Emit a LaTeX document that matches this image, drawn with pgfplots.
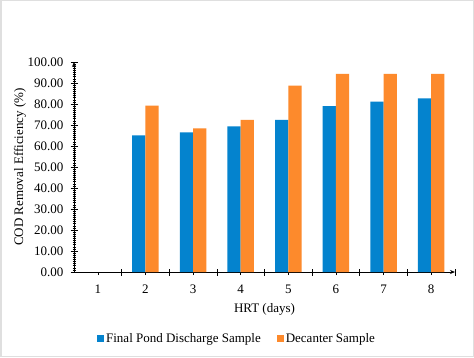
\documentclass[border=0pt]{standalone}
\usepackage{pgfplots}
\pgfplotsset{compat=1.18}
\usepackage{fontspec}
\setmainfont{Liberation Serif}
\usetikzlibrary{arrows.meta}
\definecolor{cblue}{RGB}{4,131,206}
\definecolor{corange}{RGB}{253,138,44}
\begin{document}
\fontsize{12}{14}\selectfont
\begin{tikzpicture}[x=1pt,y=1pt]
\useasboundingbox (0,0) rectangle (474,357);
\fill[white] (0,0) rectangle (474,357);
\draw[gray!25,line width=1.5pt] (0.75,0.75) rectangle (473.25,356.25);
\begin{axis}[
  at={(74pt,85pt)}, anchor=south west,
  scale only axis, width=381pt, height=210pt,
  xmin=0.5, xmax=8.5, ymin=0, ymax=100,
  axis x line=bottom, axis y line=left,
  axis line style={line width=0.8pt,-{Stealth[length=5pt,width=4pt]}},
  ybar=0pt, bar width=13.3pt,
  tick align=center, major tick length=7pt, minor tick length=3pt,
  xtick={1.5,2.5,...,8.5},
  xticklabels={},
  extra x ticks={1,...,8},
  extra x tick labels={1,2,3,4,5,6,7,8},
  extra x tick style={major tick length=3pt, tick align=outside, xticklabel style={yshift=-6pt}},
  x tick style={draw=black, line width=0.6pt},
  ytick={0,10,...,100},
  minor y tick num=9,
  y tick style={draw=black, line width=0.5pt},
  yticklabel style={xshift=-3pt, /pgf/number format/.cd, fixed, fixed zerofill, precision=2},
  /pgf/number format/assume math mode=true,
  ticklabel style={font=\fontsize{13}{15}\selectfont},
  xlabel={HRT (days)},
  ylabel={COD Removal Efficiency (\%)},
  label style={font=\fontsize{13}{15}\selectfont},
  xlabel style={at={(0.5,-0.177)}, anchor=center},
  ylabel style={at={(-0.142,0.5)}, anchor=center},
  legend style={at={(0.428,-0.319)}, anchor=center, draw=none, legend columns=2,
    font=\fontsize{13}{15}\selectfont, /tikz/every even column/.append style={column sep=14pt}},
  legend image code/.code={\fill[#1] (0pt,-3.5pt) rectangle (7pt,3.5pt);},
]
\addplot[fill=cblue, draw=none] coordinates {(2,65.1) (3,66.5) (4,69.4) (5,72.5) (6,79.0) (7,81.1) (8,82.7)};
\addplot[fill=corange, draw=none] coordinates {(2,79.2) (3,68.4) (4,72.5) (5,88.7) (6,94.4) (7,94.4) (8,94.4)};
\legend{Final Pond Discharge Sample, Decanter Sample}
\end{axis}
\end{tikzpicture}
\end{document}
